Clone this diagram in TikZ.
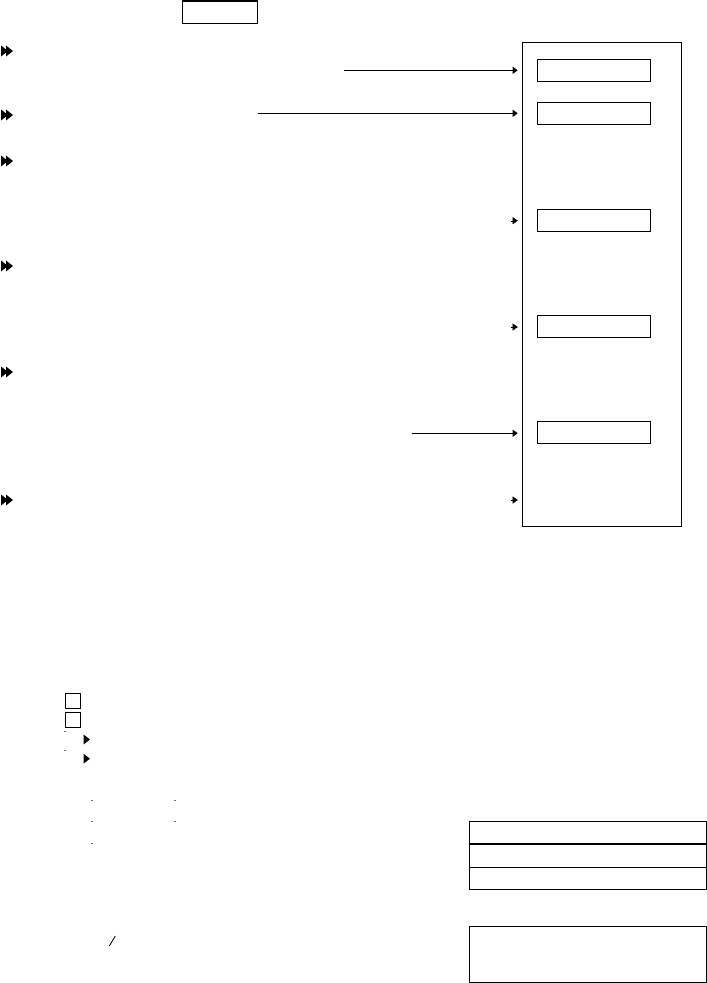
\documentclass[tikz,border=0pt]{standalone}
\usetikzlibrary{arrows.meta}
\begin{document}
\begin{tikzpicture}[x=1pt,y=-1pt,
  frame/.style={draw=black,line width=1.3pt,inner sep=0pt,outer sep=0pt},
  conn/.style={draw=black,line width=1.1pt,-{Triangle[length=5pt,width=7pt]}},
  tiponly/.style={draw=black,line width=0.1pt,-{Triangle[length=5pt,width=7pt]}},
  bul/.style={fill=black,draw=none},
  speck/.style={draw=black!55,line width=0.8pt}]
\useasboundingbox (0,0) rectangle (707,983);
\fill[white] (0,0) rectangle (707,983);
% top small box
\node[frame,minimum width=75.4pt,minimum height=22.3pt] (top) at (220,12.2) {};
% outer tall box
\node[frame,minimum width=159pt,minimum height=484.4pt] (outer) at (602.2,284.5) {};
% inner boxes
\node[frame,minimum width=113.4pt,minimum height=22pt] (b1) at (594,70.3) {};
\node[frame,minimum width=113.4pt,minimum height=22pt] (b2) at (594,113.8) {};
\node[frame,minimum width=113.4pt,minimum height=22pt] (b3) at (594,220.3) {};
\node[frame,minimum width=113.4pt,minimum height=22pt] (b4) at (594,326.3) {};
\node[frame,minimum width=113.4pt,minimum height=22pt] (b5) at (594,432.3) {};
% arrow sources
\coordinate (s1) at (344,70.3);
\coordinate (s2) at (258,113.3);
\coordinate (s3) at (511,220.7);
\coordinate (s4) at (511,327);
\coordinate (s5) at (412,433.2);
\coordinate (s6) at (511,500);
\draw[conn] (s1) -- ([xshift=-5pt]s1 -| outer.west);
\draw[conn] (s2) -- ([xshift=-5pt]s2 -| outer.west);
\draw[conn] (s5) -- ([xshift=-5pt]s5 -| outer.west);
\draw[tiponly] (s3) -- ([xshift=-5pt]s3 -| outer.west);
\draw[tiponly] (s4) -- ([xshift=-5pt]s4 -| outer.west);
\draw[tiponly] (s6) -- ([xshift=-5pt]s6 -| outer.west);
% double-triangle bullets
\foreach \yy in {51,115,161,266,372,500}{
  \fill[bul] (1,\yy-5.5) -- (8,\yy) -- (1,\yy+5.5) -- cycle;
  \fill[bul] (6,\yy-5.5) -- (13,\yy) -- (6,\yy+5.5) -- cycle;
}
% bottom-left squares
\node[frame,line width=1pt,minimum width=15pt,minimum height=15pt] (sq1) at (73,701) {};
\node[frame,line width=1pt,minimum width=15pt,minimum height=15pt] (sq2) at (72.7,719.8) {};
% small triangles
\fill[bul] (83.5,734.5) -- (90,739.5) -- (83.5,744.5) -- cycle;
\fill[bul] (83.5,753.7) -- (90,758.7) -- (83.5,763.7) -- cycle;
% specks
\foreach \px/\py in {64.7/731.7,64.7/750.7,92/800,175/800,92/821,175/821,92/843}{
  \draw[speck] (\px-0.8,\py) -- (\px+0.8,\py);
}
% slash
\draw[line width=0.8pt] (109.3,946) -- (115.3,936);
% bottom-right table
\node[frame,minimum width=237.4pt,minimum height=67.6pt,anchor=north west] (tab) at (469.3,821.7) {};
\draw[line width=1.3pt] (469.3,844) -- (706.7,844);
\draw[line width=1.3pt] (469.3,867.3) -- (706.7,867.3);
% bottom-right box
\node[frame,minimum width=237.4pt,minimum height=56pt,anchor=north west] (bbox) at (469.3,926.3) {};
\end{tikzpicture}
\end{document}
